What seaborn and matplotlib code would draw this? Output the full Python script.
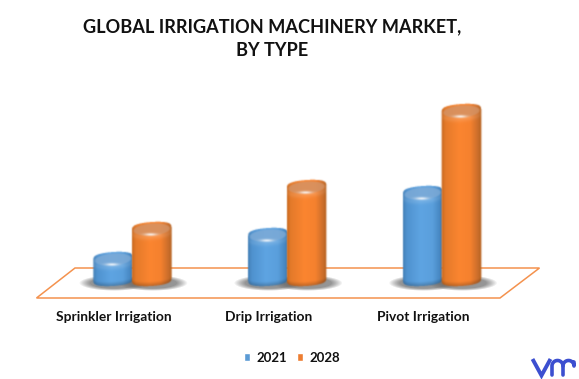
import numpy as np
import pandas as pd
import matplotlib
matplotlib.use("Agg")
import matplotlib.pyplot as plt
import seaborn as sns
from matplotlib.patches import Polygon
from matplotlib.transforms import ScaledTranslation

categories = ["Sprinkler Irrigation", "Drip Irrigation", "Pivot Irrigation"]
years = ["2021", "2028"]
values_2021 = [34, 58, 100]
values_2028 = [64, 106, 182]
title_text = "GLOBAL IRRIGATION MACHINERY MARKET,\nBY TYPE"

W, H = 579, 379
sns.set_theme(style="white")
plt.rcParams["font.family"] = ["Lato", "DejaVu Sans"]
plt.rcParams["font.weight"] = "bold"

fig = plt.figure(figsize=(W / 100, H / 100), dpi=100, facecolor="white")
ax = fig.add_axes([55 / W, 1 - 286 / H, 464.5 / W, 196 / H])
ax.patch.set_alpha(0)

df = pd.DataFrame({
    "type": categories * 2,
    "year": [years[0]] * 3 + [years[1]] * 3,
    "value": values_2021 + values_2028,
})
palette = {"2021": "#5b9bd5", "2028": "#ed7d31"}
sns.barplot(data=df, x="type", y="value", hue="year", palette=palette,
            width=0.5, gap=0, saturation=1, ax=ax, legend=True, errorbar=None)
ax.set_xlim(-0.5, 2.5)
ax.set_ylim(0, 196)
ax.set_xlabel("")
ax.set_ylabel("")
ax.set_yticks([])
for s in ax.spines.values():
    s.set_visible(False)
ax.tick_params(axis="x", length=0, pad=18)
shift = ScaledTranslation(-19 / 100, 0, fig.dpi_scale_trans)
for t in ax.get_xticklabels():
    t.set_fontsize(9.95)
    t.set_fontweight("bold")
    t.set_color("#111111")
    t.set_transform(t.get_transform() + shift)

# overlay in pixel space for the 3-D look
ov = fig.add_axes([0, 0, 1, 1], zorder=3)
ov.set_xlim(0, W)
ov.set_ylim(H, 0)
ov.axis("off")
ov.patch.set_alpha(0)

floor = [(36.5, 298), (500, 298), (539.5, 268), (75, 268)]
ov.add_patch(Polygon(floor, closed=True, fill=False, ec="#f4924e", lw=1.1, zorder=1))

STOPS = {
    "b": [(-1, "#437fb6"), (-0.8, "#4f92cf"), (-0.1, "#5ea4e2"), (0.5, "#5a9fdc"), (0.88, "#4686c1"), (1, "#3a74aa")],
    "o": [(-1, "#c8691f"), (-0.8, "#e47a2a"), (-0.1, "#fb8530"), (0.45, "#f5812e"), (0.85, "#c96d2b"), (1, "#b5621f")],
}
CAP = {"b": "#7fabd6", "o": "#d39468"}


def rgb(h):
    return np.array(matplotlib.colors.to_rgb(h))


def cylinder(x0, x1, y0, y1, kind):
    cx, rx = (x0 + x1) / 2, (x1 - x0) / 2 + .4
    ry = 8.5
    tilt = 1.3
    ss = 3
    px0, px1 = int(x0) - 2, int(x1) + 3
    py0, py1 = int(y0) - 3, int(y1) + 3
    xs = (np.arange((px1 - px0) * ss) + .5) / ss + px0
    ys = (np.arange((py1 - py0) * ss) + .5) / ss + py0
    X, Y = np.meshgrid(xs, ys)
    u = (X - cx) / rx
    inside = np.abs(u) < 1
    su = np.sqrt(np.clip(1 - u ** 2, 0, 1))
    ytc = y0 + ry - tilt * u
    ybc = y1 - ry - tilt * u
    alpha = (inside & (Y > ytc - ry * su ** .45) & (Y < ybc + ry * su ** .45)).astype(float)
    st = STOPS[kind]
    pos = [p for p, _ in st]
    cols = np.array([rgb(c) for _, c in st])
    C = np.dstack([np.interp(u, pos, cols[:, i]) for i in range(3)])
    # bottom edge darkening
    dark = np.clip((Y - (ybc + ry * su * .45)) / 6, 0, 1)[..., None]
    C = C * (1 - .3 * dark)
    # shoulder under the cap
    capfront = ytc + .62 * ry * su
    shoulder = np.exp(-((Y - capfront - 1.5) / 2.6) ** 2)[..., None] * su[..., None] ** .5
    C = C + (1 - C) * .12 * shoulder
    # cap ellipse with soft blending
    d = (u / .93) ** 2 + ((Y - ytc + 1) / (ry * .72)) ** 2
    capmask = np.clip((1.12 - d) / .25, 0, 1)[..., None]
    C = C * (1 - .8 * capmask) + rgb(CAP[kind]) * .8 * capmask
    # highlight
    hl = np.exp(-(((X - cx + 1) / (rx * .32)) ** 2 + ((Y - (y0 + 2 * ry - 4.5)) / 1.25) ** 2))[..., None]
    C = C + (1 - C) * np.clip(hl * .95, 0, 1)
    img = np.dstack([C, alpha])
    # box-down and slight blur
    h, w = img.shape[:2]
    premul = img.copy()
    premul[..., :3] *= premul[..., 3:]
    small = premul.reshape(h // ss, ss, w // ss, ss, 4).mean(axis=(1, 3))
    k = np.array([.2, .6, .2])
    for ch in range(4):
        small[..., ch] = np.apply_along_axis(lambda m: np.convolve(m, k, "same"), 0, small[..., ch])
        small[..., ch] = np.apply_along_axis(lambda m: np.convolve(m, k, "same"), 1, small[..., ch])
    a = small[..., 3:]
    out = np.dstack([np.where(a > 0, small[..., :3] / np.maximum(a, 1e-4), 1), a])
    out = np.clip(out, 0, 1)
    return out, (px0, px1, py1, py0)


def shadow(x0, x1, y1):
    cx, rx = (x0 + x1) / 2 + 1, (x1 - x0) / 2 + 14
    gx = np.arange(int(cx - rx - 8), int(cx + rx + 8))
    gy = np.arange(int(y1 - 14), int(y1 + 14))
    X, Y = np.meshgrid(gx + .5, gy + .5)
    d = ((X - cx) / rx) ** 2 + ((Y - (y1 - 3)) / 7.5) ** 2
    a = np.clip((1.1 - d) / .6, 0, 1) * .72
    img = np.zeros(X.shape + (4,))
    img[..., :3] = .42
    img[..., 3] = a
    return img, (gx[0], gx[-1] + 1, gy[-1] + 1, gy[0])


bars = [p for p in ax.patches if p.get_height() > 0]
geom = []
for p in bars:
    x, w, h = p.get_x(), p.get_width(), p.get_height()
    (a0, b0) = ax.transData.transform((x, h))
    (a1, b1) = ax.transData.transform((x + w, 0))
    kind = "b" if matplotlib.colors.to_hex(p.get_facecolor()) == palette["2021"] else "o"
    geom.append((a0, a1, H - b0, H - b1, kind))
    p.set_visible(False)

for a0, a1, t, b, k in geom:
    im, ext = shadow(a0, a1, b)
    ov.imshow(im, extent=ext, aspect="auto", zorder=2, interpolation="bilinear")
for i, (a0, a1, t, b, k) in enumerate(sorted(geom, key=lambda g: g[0])):
    im, ext = cylinder(a0, a1, t, b, k)
    ov.imshow(im, extent=ext, aspect="auto", zorder=3 + i, interpolation="bilinear")
ov.set_xlim(0, W)
ov.set_ylim(H, 0)

fig.text(272.5 / W, 1 - 38.5 / H, title_text, ha="center", va="center", fontsize=13.1,
         fontweight="bold", color="#111111", linespacing=1.5, zorder=5)

# legend
handles, labels = ax.get_legend_handles_labels()
for hd in handles:
    hd.set_visible(True)
leg = ax.legend(handles, labels, ncol=2, frameon=False, loc="center",
                bbox_to_anchor=(292 / W, 1 - 357.5 / H), bbox_transform=fig.transFigure,
                fontsize=9.5, handlelength=0.45, handleheight=0.5, handletextpad=0.45,
                columnspacing=0.8, borderpad=0)
for t in leg.get_texts():
    t.set_fontweight("bold")
    t.set_color("#111111")

# logo mark
logo = "#3c4fd0"
ov.plot([532.5, 541.5, 550.5], [359, 375.5, 359], color=logo, lw=2.8, solid_capstyle="butt", solid_joinstyle="miter", zorder=6)
th = np.linspace(np.pi, 0, 30)
ov.plot(np.r_[552, 552 + 5.5 + 5.5 * np.cos(th), 563], np.r_[375, 366 - 5.5 * np.sin(th), 375], color=logo, lw=2.6, zorder=6)
ov.plot(np.r_[563 + 5.5 + 5.5 * np.cos(th), 574], np.r_[366 - 5.5 * np.sin(th), 362], color=logo, lw=2.6, zorder=6)

fig.savefig("out.png", dpi=100, facecolor="white")
